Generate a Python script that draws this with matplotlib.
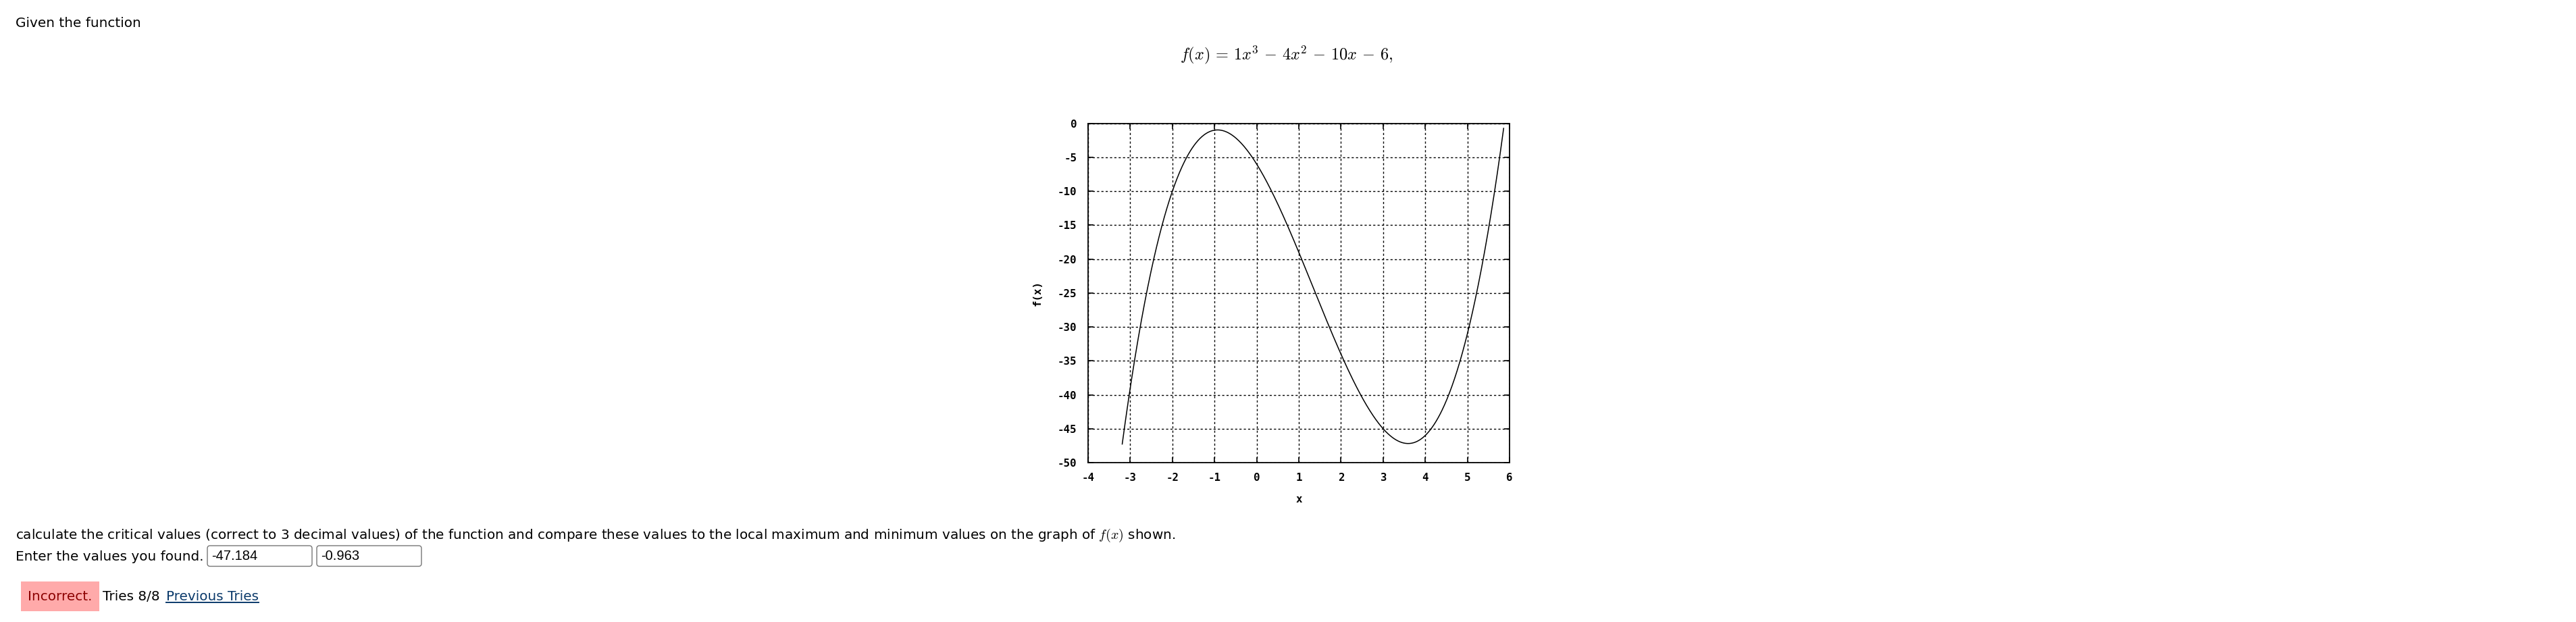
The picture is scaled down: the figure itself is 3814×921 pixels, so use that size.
import numpy as np
import matplotlib
matplotlib.use("Agg")
import matplotlib.pyplot as plt
from matplotlib.patches import FancyBboxPatch, Rectangle
from matplotlib.lines import Line2D
from matplotlib.transforms import Affine2D

# --- data read from the page ---
coeffs = [1, -4, -10, -6]          # f(x) = 1x^3 - 4x^2 - 10x - 6
x_start, x_end = -3.19, 5.86       # where the drawn curve starts / stops
x_ticks = [-4, -3, -2, -1, 0, 1, 2, 3, 4, 5, 6]
y_ticks = [-50, -45, -40, -35, -30, -25, -20, -15, -10, -5, 0]
answers = ["-47.184", "-0.963"]

W, H, DPI = 3814, 921, 100
plt.rcParams["mathtext.fontset"] = "cm"
plt.rcParams["axes.unicode_minus"] = False

fig = plt.figure(figsize=(W / DPI, H / DPI), dpi=DPI)
# page coordinates in pixels, origin at the top-left corner
page = Affine2D().scale(1 / DPI, -1 / DPI).translate(0, H / DPI) + fig.dpi_scale_trans

# plot box: x 1611..2235, y 182.7..685 (pixels)
ax = fig.add_axes([1611 / W, (H - 685) / H, 624 / W, 502.3 / H])

xs = np.linspace(x_start, x_end, 600)
ax.plot(xs, np.polyval(coeffs, xs), color="black", lw=1.1)

ax.set_xlim(-4, 6)
ax.set_ylim(-50, 0)
ax.set_xticks(x_ticks)
ax.set_yticks(y_ticks)
ax.grid(True, color="black", lw=1.0, linestyle=(0, (2.3, 2.3)))
ax.tick_params(direction="in", length=5.8, width=1.2, top=True, right=True,
               labelsize=11.3, colors="black")
ax.tick_params(axis="y", pad=12)
ax.tick_params(axis="x", pad=10.5)
for lab in ax.get_xticklabels() + ax.get_yticklabels():
    lab.set_family("DejaVu Sans Mono")
    lab.set_weight("bold")
for sp in ax.spines.values():
    sp.set_linewidth(1.3)

ax.set_xlabel("x", family="DejaVu Sans Mono", weight="bold", fontsize=11.3)
ax.xaxis.set_label_coords(0.5, -(739 - 685) / 502.3)
ax.xaxis.label.set_va("center")
ax.set_ylabel("f(x)", family="DejaVu Sans Mono", weight="bold", fontsize=11.3)
ax.yaxis.set_label_coords(-(1611 - 1536) / 624, 0.5)
ax.yaxis.label.set_va("center")

# --- page text around the chart ---
body = dict(family="DejaVu Sans", fontsize=14.4, transform=page, va="baseline")
fig.text(22.7, 40, "Given the function", **body)
fig.text(1747, 88, r"$f(x)\,=\,1x^3\,-\,4x^2\,-\,10x\,-\,6,$", fontsize=17.5,
         transform=page, va="baseline")
fig.text(22.7, 798, "calculate the critical values (correct to 3 decimal values) of the "
         "function and compare these values to the local maximum and minimum values "
         r"on the graph of $f(x)$ shown.", **body)
fig.text(22.7, 830, "Enter the values you found.", **body)

for (x0, x1), val in zip([(307, 462), (469, 624)], answers):
    fig.patches.append(FancyBboxPatch((x0, 808), x1 - x0, 30.5,
                                      boxstyle="round,pad=0,rounding_size=4",
                                      fc="white", ec="#767676", lw=1.0, transform=page))
    fig.text(x0 + 6, 829, val, family="Liberation Sans", fontsize=14.5,
             transform=page, va="baseline")

fig.patches.append(Rectangle((31, 861), 116, 44, fc="#ffaaaa", ec="none", transform=page))
fig.text(40.7, 889, "Incorrect.", color="#8b0000", **body)
fig.text(151.7, 889, "Tries 8/8", **body)
fig.text(246, 889, "Previous Tries", color="#0b3a6b", **body)
fig.lines.append(Line2D([246, 383], [892, 892], color="#0b3a6b", lw=1.4, transform=page))

fig.savefig("out.png", dpi=DPI, facecolor="white")
